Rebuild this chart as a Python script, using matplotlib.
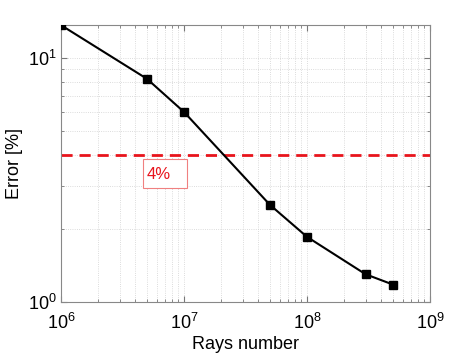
import matplotlib.pyplot as plt
from matplotlib.patches import Rectangle

rays = [1e6, 5e6, 1e7, 5e7, 1e8, 3e8, 5e8]
error = [13.6, 8.2, 6.0, 2.5, 1.85, 1.30, 1.18]
threshold = 4.0
threshold_label = "4%"

plt.rcParams['font.family'] = ['Liberation Sans', 'DejaVu Sans']

fig = plt.figure(figsize=(4.74, 3.55), dpi=100)
ax = fig.add_axes([0.129, 0.149, 0.778, 0.781])

ax.plot(rays, error, color='k', lw=1.5, marker='s', ms=6, zorder=3)
ax.axhline(threshold, color='#e8141c', ls=(0, (4, 2.5)), lw=2, zorder=2)
# label box under the threshold line
ax.add_patch(Rectangle((4.64e6, 2.93), 1.056e7 - 4.64e6, 3.86 - 2.93,
                       fc='white', ec='#f08080', lw=0.8, zorder=4))
ax.text(5.0e6, 3.33, threshold_label, color='#e8141c', fontsize=12,
        ha='left', va='center', zorder=5)

ax.set_xscale('log')
ax.set_yscale('log')
ax.set_xlim(1e6, 1e9)
ax.set_ylim(1, 13.65)
ax.grid(True, which='both', ls=':', color='#d0d0d0', lw=0.6)
ax.tick_params(which='both', direction='in', color='#777777', labelsize=13, top=True, right=True)
ax.tick_params(which='major', length=4)
ax.tick_params(which='minor', length=2.5)
ax.tick_params(axis='x', pad=8)
ax.tick_params(axis='y', pad=3)
for s in ax.spines.values():
    s.set_color('#888888')
ax.set_xlabel('Rays number', fontsize=13, labelpad=2)
ax.set_ylabel('Error [%]', fontsize=13, labelpad=4)

plt.savefig('out.png', dpi=100)
